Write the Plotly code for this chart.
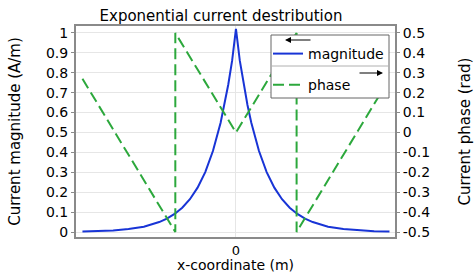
import plotly.graph_objects as go

# ---- data ----
x_mag = [-1.0, -0.9, -0.8, -0.7, -0.6, -0.5, -0.45, -0.4, -0.35, -0.3, -0.25, -0.2, -0.15,
         -0.1, -0.075, -0.05, -0.025, 0.0, 0.025, 0.05, 0.075, 0.1, 0.15, 0.2, 0.25, 0.3,
         0.35, 0.4, 0.45, 0.5, 0.6, 0.7, 0.8, 0.9, 1.0]
magnitude = [0.0025, 0.0045, 0.008, 0.015, 0.027, 0.050, 0.067, 0.091, 0.122, 0.165, 0.223,
             0.301, 0.407, 0.549, 0.638, 0.741, 0.861, 1.02, 0.861, 0.741, 0.638, 0.549,
             0.407, 0.301, 0.223, 0.165, 0.122, 0.091, 0.067, 0.050, 0.027, 0.015, 0.008,
             0.0045, 0.0025]
x_phase = [-1.0, -0.395, -0.395, 0.0, 0.395, 0.395, 1.0]
phase = [0.27, -0.5, 0.5, 0.0, 0.5, -0.5, 0.27]

left_tickvals = [0, 0.1, 0.2, 0.3, 0.4, 0.5, 0.6, 0.7, 0.8, 0.9, 1]
left_ticktext = ["0", "0.1", "0.2", "0.3", "0.4", "0.5", "0.6", "0.7", "0.8", "0.9", "1"]
right_tickvals = [-0.5, -0.4, -0.3, -0.2, -0.1, 0, 0.1, 0.2, 0.3, 0.4, 0.5]
right_ticktext = ["-0.5", "-0.4", "-0.3", "-0.2", "-0.1", "0", "0.1", "0.2", "0.3", "0.4", "0.5"]
x_tickvals = [0]
x_ticktext = ["0"]

# ---- layout geometry ----
W, H = 474, 273
L, R, T, B = 76, 79, 26, 36


def px(x):
    return (x - L) / (W - L - R)


def py(y):
    return (H - B - y) / (H - T - B)


FONT = "DejaVu Sans"
AX = "#8a8a8a"
GRID = "#e6e6e6"

fig = go.Figure()
fig.add_trace(go.Scatter(x=x_mag, y=magnitude, name="magnitude", mode="lines",
                         line=dict(color="#1834d6", width=2), legendgroup="a"))
fig.add_trace(go.Scatter(x=x_phase, y=phase, name="phase", mode="lines", yaxis="y2",
                         line=dict(color="#2ca83c", width=2, dash="11px,5px"),
                         legendgroup="b"))

fig.update_layout(
    width=W, height=H,
    margin=dict(l=L, r=R, t=T, b=B, autoexpand=False),
    paper_bgcolor="white", plot_bgcolor="white",
    font=dict(family=FONT, size=14, color="black"),
    title=dict(text="Exponential current destribution", x=221 / W, xanchor="center",
               xref="container", y=1 - 16 / H, yanchor="middle", yref="container",
               font=dict(size=15, family=FONT, color="black"), automargin=False),
    xaxis=dict(range=[-1.042, 1.036], tickvals=x_tickvals, ticktext=x_ticktext,
               showgrid=True, gridcolor=GRID, zeroline=False, automargin=False,
               showline=True, linecolor=AX, linewidth=2, mirror=True,
               ticks="", tickfont=dict(size=13)),
    yaxis=dict(range=[-0.025, 1.035], tickvals=left_tickvals, ticktext=left_ticktext,
               showgrid=True, gridcolor=GRID, zeroline=False, automargin=False,
               showline=True, linecolor=AX, linewidth=2, mirror=True,
               ticks="outside", ticklen=3, tickcolor=AX,
               title=dict(text="Current magnitude (A/m)", font=dict(size=15), standoff=22)),
    yaxis2=dict(range=[-0.525, 0.535], tickvals=right_tickvals, ticktext=right_ticktext,
                overlaying="y", side="right", showgrid=False, zeroline=False,
                automargin=False,
                showline=True, linecolor=AX, linewidth=2,
                ticks="outside", ticklen=3, tickcolor=AX,
                title=dict(text="Current phase (rad)", font=dict(size=15), standoff=32)),
    legend=dict(x=px(268), y=py(38), xanchor="left", yanchor="top",
                bgcolor="rgba(0,0,0,0)", borderwidth=0,
                font=dict(size=14, family=FONT), tracegroupgap=10,
                traceorder="grouped"),
    shapes=[
        dict(type="rect", xref="paper", yref="paper", x0=px(271), x1=px(389),
             y0=py(98), y1=py(35), fillcolor="white", line=dict(color="#666", width=1),
             layer="above"),
        dict(type="line", xref="paper", yref="paper", x0=px(271), x1=px(389),
             y0=py(66), y1=py(66), line=dict(color="#b0b0b0", width=1), layer="above"),
    ],
    annotations=[
        dict(xref="paper", yref="paper", x=px(285), y=py(40), text="", showarrow=True,
             ax=27, ay=0, arrowhead=2, arrowsize=1, arrowwidth=1.2, arrowcolor="black"),
        dict(xref="paper", yref="paper", x=px(383), y=py(73), text="", showarrow=True,
             ax=-25, ay=0, arrowhead=2, arrowsize=1, arrowwidth=1.2, arrowcolor="black"),
        dict(xref="paper", yref="paper", x=0.5, y=py(265), text="x-coordinate (m)",
             showarrow=False, xanchor="center", yanchor="middle", borderpad=0,
             font=dict(size=14, family=FONT, color="black")),
    ],
    showlegend=True,
)

fig.write_html("out.html")
